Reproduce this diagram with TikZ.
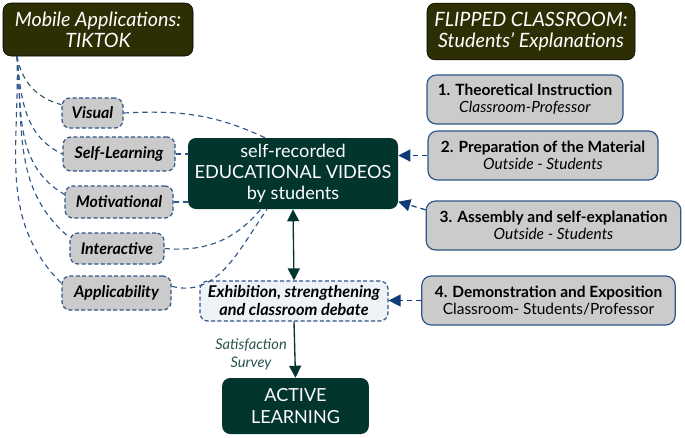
\documentclass[tikz,border=0pt]{standalone}
\usepackage{fontspec}
\setmainfont{Lato}
\usetikzlibrary{arrows.meta}
\definecolor{olivebox}{HTML}{2E2E05}
\definecolor{tealbox}{HTML}{03352F}
\definecolor{greybox}{HTML}{CBCBCB}
\definecolor{blueline}{HTML}{2F5688}
\definecolor{bluetip}{HTML}{0D3C78}
\definecolor{paleblue}{HTML}{EEF3F7}
\tikzset{>={Triangle[width=9pt,length=9pt]}}
\tikzset{
    headbox/.style={draw=black, fill=olivebox, text=white, rounded corners=6pt, align=center, inner sep=0pt, font=\fontsize{14.8}{15.5}\selectfont\itshape},
    darkbox/.style={fill=tealbox, text=white, rounded corners=6pt, align=center, inner sep=0pt},
    stagebox/.style={draw=blueline, line width=0.9pt, fill=greybox, rounded corners=7pt, align=center, inner sep=0pt, font=\fontsize{11.6}{13}\selectfont},
    tagbox/.style={draw=blueline, dash pattern=on 3pt off 1.8pt, line width=0.9pt, fill=greybox, rounded corners=6pt, inner sep=0pt, font=\fontsize{12}{13}\selectfont\bfseries\itshape},
    link/.style={draw=blueline, dash pattern=on 4pt off 3pt, line width=0.85pt},
    feed/.style={draw=bluetip, dash pattern=on 4pt off 3pt, line width=0.9pt, ->},
    flow/.style={draw=tealbox, line width=1pt}
}
\begin{document}
\begin{tikzpicture}[x=0.75pt, y=-0.75pt]
    \useasboundingbox (0,0) rectangle (685,437);
    % title boxes
    \node[headbox, minimum width=142.5pt, minimum height=39.75pt] (mobile) at (98,29.5) {Mobile Applications:\\TIKTOK};
    \node[headbox, minimum width=156pt, minimum height=42.5pt] (flipped) at (531,31.5) {FLIPPED CLASSROOM:\\Students' Explanations};
    % stages
    \node[stagebox, minimum width=147pt, minimum height=36.75pt] (stageone) at (525,99.5) {\textbf{1. Theoretical Instruction}\\\textit{Classroom-Professor}};
    \node[stagebox, minimum width=172.5pt, minimum height=36.75pt] (stagetwo) at (543,155.5) {\textbf{2. Preparation of the Material}\\\textit{Outside - Students}};
    \node[stagebox, minimum width=191pt, minimum height=36.75pt] (stagethree) at (553.5,225.5) {\textbf{3. Assembly and self-explanation}\\\textit{Outside - Students}};
    \node[stagebox, minimum width=190pt, minimum height=36.75pt] (stagefour) at (548.5,300.5) {\textbf{4. Demonstration and Exposition}\\Classroom- Students/Professor};
    % tags
    \node[tagbox, minimum width=45.75pt, minimum height=22.5pt] (visual) at (92.5,113) {Visual};
    \node[tagbox, minimum width=84pt, minimum height=25.5pt] (selflearn) at (119,154) {Self-Learning};
    \node[tagbox, minimum width=81pt, minimum height=24pt] (motive) at (119,202) {Motivational};
    \node[tagbox, minimum width=70.5pt, minimum height=23.25pt] (inter) at (117,248.5) {Interactive};
    \node[tagbox, minimum width=81.75pt, minimum height=25.5pt] (apply) at (116.5,293) {Applicability};
    % centre column
    \node[darkbox, minimum width=157.5pt, minimum height=53.25pt, font=\fontsize{13.6}{16}\selectfont] (videos) at (293,173.5) {self-recorded\\EDUCATIONAL VIDEOS\\by students};
    \node[tagbox, fill=paleblue, align=center, minimum width=141pt, minimum height=30pt, font=\fontsize{12.2}{13.5}\selectfont\bfseries\itshape] (debate) at (294,301) {Exhibition, strengthening\\and classroom debate};
    \node[darkbox, minimum width=110pt, minimum height=42pt, font=\fontsize{13.5}{16}\selectfont] (active) at (295.5,406) {ACTIVE\\LEARNING};
    \node[text=tealbox!85, align=center, font=\fontsize{11}{13.5}\selectfont\itshape] (survey) at (251,354) {Satisfaction\\Survey};
    % left fan
    \coordinate (fan) at (17,56);
    \draw[link, draw=tealbox!80] (fan) to[out=-80, in=165] (visual.165);
    \draw[link] (fan) to[out=-85, in=155] (selflearn.west);
    \draw[link] (fan) to[out=-85, in=150] (motive.172);
    \draw[link] (fan) to[out=-85, in=140] (inter.167);
    \draw[link] (fan) to[out=-88, in=135] (apply.170);
    % tags to videos
    \draw[link] (visual.east) to[out=3, in=155] (videos.128);
    \draw[link] (selflearn.east) -- (selflearn.east -| videos.west);
    \draw[link] (motive.east) -- (motive.east -| videos.west);
    \draw[link] (inter.east) to[out=-5, in=-130] (videos.228);
    \draw[link] (apply.7) to[out=-15, in=-125] (videos.234);
    % stages to centre
    \draw[feed] (stagetwo.west) -- (stagetwo.west -| videos.east);
    \draw[feed] (stagethree.173.5) -- (videos.-15.6);
    \draw[feed] (stagefour.west) -- (stagefour.west -| debate.east);
    \draw[flow, <->] (videos.south) -- (debate.north);
    \draw[flow, ->] (debate.south) -- (active.north);
\end{tikzpicture}
\end{document}
